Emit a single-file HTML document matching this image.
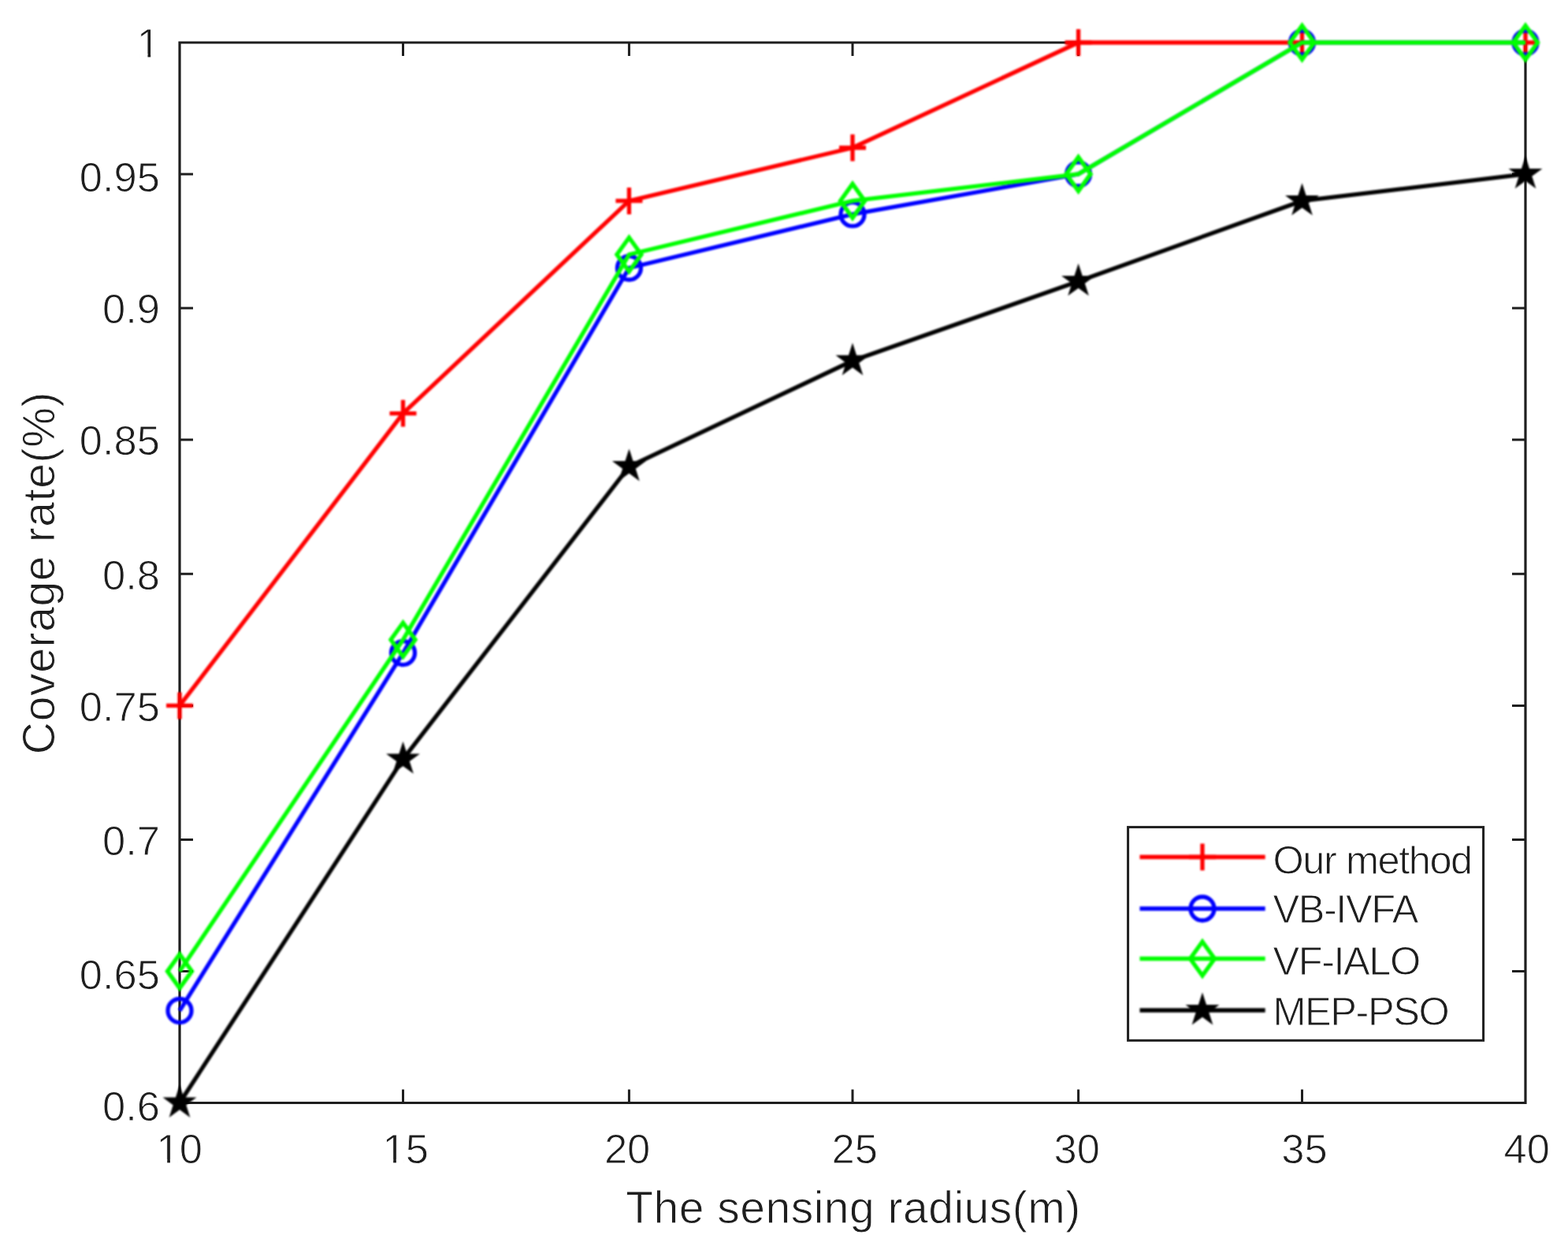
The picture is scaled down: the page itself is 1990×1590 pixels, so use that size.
<!DOCTYPE html><html><head><meta charset="utf-8"><title>Coverage rate vs sensing radius</title><style>html,body{margin:0;padding:0;background:#fff;overflow:hidden;}svg{display:block;}</style></head><body><svg width="1990" height="1590" viewBox="0 0 1990 1590"><rect x="0" y="0" width="1990" height="1590" fill="#fff"/><path d="M511.5 1399.5V1382.5M511.5 54.0V71.0M798.4 1399.5V1382.5M798.4 54.0V71.0M1082.0 1399.5V1382.5M1082.0 54.0V71.0M1368.6 1399.5V1382.5M1368.6 54.0V71.0M1652.5 1399.5V1382.5M1652.5 54.0V71.0M228.0 220.9H245.0M1936.0 220.9H1919.0M228.0 391.0H245.0M1936.0 391.0H1919.0M228.0 558.0H245.0M1936.0 558.0H1919.0M228.0 728.3H245.0M1936.0 728.3H1919.0M228.0 895.4H245.0M1936.0 895.4H1919.0M228.0 1065.5H245.0M1936.0 1065.5H1919.0M228.0 1232.4H245.0M1936.0 1232.4H1919.0" stroke="#1e1e1e" stroke-width="3" fill="none"/><path d="M1368.6 54.0H228.0V1399.5H1936.0V54.0" stroke="#1e1e1e" stroke-width="3.2" fill="none" stroke-linejoin="miter" stroke-linecap="square"/><g font-family="Liberation Sans, Arial, Helvetica, sans-serif" font-size="52.5" fill="#1e1e1e" stroke="#fff" stroke-width="0.9" text-anchor="middle"><text x="227.8" y="1475.8">10</text><text x="514.7" y="1475.8">15</text><text x="796.1" y="1475.8">20</text><text x="1084.8" y="1475.8">25</text><text x="1366.8" y="1475.8">30</text><text x="1655.4" y="1475.8">35</text><text x="1937.8" y="1475.8">40</text></g><g font-family="Liberation Sans, Arial, Helvetica, sans-serif" font-size="52.5" fill="#1e1e1e" stroke="#fff" stroke-width="0.9" text-anchor="end"><text x="203" y="73.0">1</text><text x="203" y="243.0">0.95</text><text x="203" y="410.3">0.9</text><text x="203" y="577.3">0.85</text><text x="203" y="747.8">0.8</text><text x="203" y="915.0">0.75</text><text x="203" y="1085.1">0.7</text><text x="203" y="1255.1">0.65</text><text x="203" y="1422.1">0.6</text></g><rect x="201.88" y="1471.10" width="10.32" height="6.10" fill="#fff"/><rect x="215.94" y="1471.10" width="9.78" height="6.10" fill="#fff"/><rect x="488.83" y="1471.10" width="10.32" height="6.10" fill="#fff"/><rect x="502.89" y="1471.10" width="9.78" height="6.10" fill="#fff"/><rect x="177.13" y="68.30" width="10.32" height="6.10" fill="#fff"/><rect x="191.19" y="68.30" width="9.78" height="6.10" fill="#fff"/><text x="1083" y="1552" text-anchor="middle" font-family="Liberation Sans, Arial, Helvetica, sans-serif" font-size="57" letter-spacing="0.5" fill="#1e1e1e" stroke="#fff" stroke-width="0.9">The sensing radius(m)</text><text transform="translate(69,727) rotate(-90)" text-anchor="middle" font-family="Liberation Sans, Arial, Helvetica, sans-serif" font-size="57" letter-spacing="0.65" fill="#1e1e1e" stroke="#fff" stroke-width="0.9">Coverage rate(%)</text><defs><filter id="soft" filterUnits="userSpaceOnUse" x="0" y="0" width="1990" height="1590" color-interpolation-filters="sRGB"><feGaussianBlur stdDeviation="1.1"/></filter></defs><g filter="url(#soft)" stroke-width="5.3" stroke-linejoin="miter"><polyline points="228.0,895.4 511.5,524.6 798.4,254.9 1082.0,187.5 1368.6,54.0 1652.5,54.0 1936.0,54.0" stroke="#ff0000" fill="none"/><path d="M211.0 895.4H245.0M228.0 878.4V912.4" stroke="#ff0000" fill="none"/><path d="M494.5 524.6H528.5M511.5 507.6V541.6" stroke="#ff0000" fill="none"/><path d="M781.4 254.9H815.4M798.4 237.9V271.9" stroke="#ff0000" fill="none"/><path d="M1065.0 187.5H1099.0M1082.0 170.5V204.5" stroke="#ff0000" fill="none"/><path d="M1351.6 54.0H1385.6M1368.6 37.0V71.0" stroke="#ff0000" fill="none"/><path d="M1635.5 54.0H1669.5M1652.5 37.0V71.0" stroke="#ff0000" fill="none"/><path d="M1919.0 54.0H1953.0M1936.0 37.0V71.0" stroke="#ff0000" fill="none"/><polyline points="228.0,1282.5 511.5,828.6 798.4,340.0 1082.0,271.9 1368.6,220.9 1652.5,54.0 1936.0,54.0" stroke="#0000ff" fill="none"/><circle cx="228.0" cy="1282.5" r="15" stroke="#0000ff" fill="none"/><circle cx="511.5" cy="828.6" r="15" stroke="#0000ff" fill="none"/><circle cx="798.4" cy="340.0" r="15" stroke="#0000ff" fill="none"/><circle cx="1082.0" cy="271.9" r="15" stroke="#0000ff" fill="none"/><circle cx="1368.6" cy="220.9" r="15" stroke="#0000ff" fill="none"/><circle cx="1652.5" cy="54.0" r="15" stroke="#0000ff" fill="none"/><circle cx="1936.0" cy="54.0" r="15" stroke="#0000ff" fill="none"/><polyline points="228.0,1232.4 511.5,811.8 798.4,323.0 1082.0,254.9 1368.6,220.9 1652.5,54.0 1936.0,54.0" stroke="#00ff00" fill="none"/><path d="M228.0 1210.9L243.5 1232.4L228.0 1253.9L212.5 1232.4Z" stroke="#00ff00" fill="none"/><path d="M511.5 790.3L527.0 811.8L511.5 833.3L496.0 811.8Z" stroke="#00ff00" fill="none"/><path d="M798.4 301.5L813.9 323.0L798.4 344.5L782.9 323.0Z" stroke="#00ff00" fill="none"/><path d="M1082.0 233.4L1097.5 254.9L1082.0 276.4L1066.5 254.9Z" stroke="#00ff00" fill="none"/><path d="M1368.6 199.4L1384.1 220.9L1368.6 242.4L1353.1 220.9Z" stroke="#00ff00" fill="none"/><path d="M1652.5 32.5L1668.0 54.0L1652.5 75.5L1637.0 54.0Z" stroke="#00ff00" fill="none"/><path d="M1936.0 32.5L1951.5 54.0L1936.0 75.5L1920.5 54.0Z" stroke="#00ff00" fill="none"/><polyline points="228.0,1399.5 511.5,963.4 798.4,592.1 1082.0,457.8 1368.6,357.0 1652.5,254.9 1936.0,220.9" stroke="#000000" fill="none"/><polygon points="228.0,1382.0 231.9,1394.1 244.6,1394.1 234.4,1401.6 238.3,1413.7 228.0,1406.2 217.7,1413.7 221.6,1401.6 211.4,1394.1 224.1,1394.1" stroke="#000000" stroke-width="3.2" fill="#000000"/><polygon points="511.5,945.9 515.4,958.0 528.1,958.0 517.9,965.5 521.8,977.6 511.5,970.1 501.2,977.6 505.1,965.5 494.9,958.0 507.6,958.0" stroke="#000000" stroke-width="3.2" fill="#000000"/><polygon points="798.4,574.6 802.3,586.7 815.0,586.7 804.8,594.1 808.7,606.2 798.4,598.7 788.1,606.2 792.0,594.1 781.8,586.7 794.5,586.7" stroke="#000000" stroke-width="3.2" fill="#000000"/><polygon points="1082.0,440.3 1085.9,452.4 1098.6,452.4 1088.4,459.9 1092.3,472.0 1082.0,464.5 1071.7,472.0 1075.6,459.9 1065.4,452.4 1078.1,452.4" stroke="#000000" stroke-width="3.2" fill="#000000"/><polygon points="1368.6,339.5 1372.5,351.6 1385.2,351.6 1375.0,359.0 1378.9,371.1 1368.6,363.7 1358.3,371.1 1362.2,359.0 1352.0,351.6 1364.7,351.6" stroke="#000000" stroke-width="3.2" fill="#000000"/><polygon points="1652.5,237.4 1656.4,249.5 1669.1,249.5 1658.9,257.0 1662.8,269.1 1652.5,261.6 1642.2,269.1 1646.1,257.0 1635.9,249.5 1648.6,249.5" stroke="#000000" stroke-width="3.2" fill="#000000"/><polygon points="1936.0,203.4 1939.9,215.5 1952.6,215.5 1942.4,223.0 1946.3,235.1 1936.0,227.6 1925.7,235.1 1929.6,223.0 1919.4,215.5 1932.1,215.5" stroke="#000000" stroke-width="3.2" fill="#000000"/></g><rect x="1431.6" y="1049.6" width="451.0" height="270.7" fill="#fff" stroke="#1e1e1e" stroke-width="3"/><g filter="url(#soft)" stroke-width="5.3"><path d="M1446.5 1087.5H1605.7" stroke="#ff0000" fill="none"/><path d="M1509.0 1087.5H1543.0M1526.0 1070.5V1104.5" stroke="#ff0000" fill="none"/></g><text x="1615.5" y="1108.7" font-family="Liberation Sans, Arial, Helvetica, sans-serif" font-size="50.5" letter-spacing="-1.45" fill="#1e1e1e" stroke="#fff" stroke-width="0.9">Our method</text><g filter="url(#soft)" stroke-width="5.3"><path d="M1446.5 1153H1605.7" stroke="#0000ff" fill="none"/><circle cx="1526.0" cy="1153.0" r="15" stroke="#0000ff" fill="none"/></g><text x="1615.5" y="1170.5" font-family="Liberation Sans, Arial, Helvetica, sans-serif" font-size="50.5" letter-spacing="-1.45" fill="#1e1e1e" stroke="#fff" stroke-width="0.9">VB-IVFA</text><g filter="url(#soft)" stroke-width="5.3"><path d="M1446.5 1216.5H1605.7" stroke="#00ff00" fill="none"/><path d="M1526.0 1195.0L1541.5 1216.5L1526.0 1238.0L1510.5 1216.5Z" stroke="#00ff00" fill="none"/></g><text x="1615.5" y="1236.6" font-family="Liberation Sans, Arial, Helvetica, sans-serif" font-size="50.5" letter-spacing="-1.45" fill="#1e1e1e" stroke="#fff" stroke-width="0.9">VF-IALO</text><g filter="url(#soft)" stroke-width="5.3"><path d="M1446.5 1282H1605.7" stroke="#000000" fill="none"/><polygon points="1526.0,1264.5 1529.9,1276.6 1542.6,1276.6 1532.4,1284.1 1536.3,1296.2 1526.0,1288.7 1515.7,1296.2 1519.6,1284.1 1509.4,1276.6 1522.1,1276.6" stroke="#000000" stroke-width="3.2" fill="#000000"/></g><text x="1615.5" y="1300.5" font-family="Liberation Sans, Arial, Helvetica, sans-serif" font-size="50.5" letter-spacing="-1.45" fill="#1e1e1e" stroke="#fff" stroke-width="0.9">MEP-PSO</text></svg></body></html>
